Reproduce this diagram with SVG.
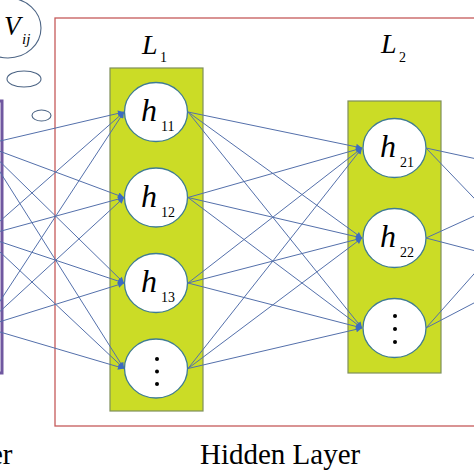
<svg xmlns="http://www.w3.org/2000/svg" width="474" height="474" viewBox="0 0 474 474">
<style>
.bg{fill:#ffffff}
.frame{fill:none;stroke:#c55a5a;stroke-width:1.3}
.layer{fill:#cbdc26;stroke:#7f8f5a;stroke-width:1.2}
.node{fill:#ffffff;stroke:#3f7c94;stroke-width:1.3}
.bubble{fill:#ffffff;stroke:#4d6585;stroke-width:1.1}
.conn line{stroke:#5470ab;stroke-width:1}
.t{font-family:"Liberation Serif","Times New Roman",serif;fill:#000}
.it{font-style:italic}
.dot{fill:#000}
</style>
<defs>
<marker id="arr" viewBox="0 0 10 10" refX="10" refY="5" markerWidth="7" markerHeight="6" markerUnits="userSpaceOnUse" orient="auto">
<path d="M0,0 L10,5 L0,10 z" fill="#3d6cc0"/>
</marker>
</defs>
<rect class="bg" x="0" y="0" width="474" height="474"/>

<g id="hidden-frame">
<rect class="frame" x="55" y="18" width="480" height="408"/>
<text class="t" x="200" y="464" font-size="29">Hidden Layer</text>
</g>

<g id="input-layer">
<rect x="-20" y="101" width="22" height="272" fill="none" stroke="#7058a0" stroke-width="3"/>
<text class="t" x="12.5" y="464" font-size="29" text-anchor="end">er</text>
</g>

<g id="thought-bubble">
<ellipse class="bubble" cx="8" cy="28" rx="33" ry="30"/>
<ellipse class="bubble" cx="24" cy="79" rx="17" ry="8"/>
<ellipse class="bubble" cx="41.5" cy="115.5" rx="9.5" ry="5.5"/>
<text class="t it" x="4" y="35" font-size="27">V</text>
<text class="t it" x="22" y="44" font-size="15">ij</text>
</g>

<g id="layer-L1">
<rect class="layer" x="110" y="68" width="93" height="343"/>
<text class="t it" x="142" y="54" font-size="28">L</text>
<text class="t" x="160" y="62" font-size="14">1</text>
</g>

<g id="layer-L2">
<rect class="layer" x="348" y="101" width="93" height="272"/>
<text class="t it" x="381" y="53" font-size="28">L</text>
<text class="t" x="399" y="62" font-size="14">2</text>
</g>

<g id="connectors" class="conn">
<line x1="-17" y1="145" x2="124" y2="112" marker-end="url(#arr)"/>
<line x1="-17" y1="145" x2="124" y2="197.5" marker-end="url(#arr)"/>
<line x1="-17" y1="145" x2="124" y2="283" marker-end="url(#arr)"/>
<line x1="-17" y1="145" x2="124" y2="368.5" marker-end="url(#arr)"/>
<line x1="-17" y1="236" x2="124" y2="112" marker-end="url(#arr)"/>
<line x1="-17" y1="236" x2="124" y2="197.5" marker-end="url(#arr)"/>
<line x1="-17" y1="236" x2="124" y2="283" marker-end="url(#arr)"/>
<line x1="-17" y1="236" x2="124" y2="368.5" marker-end="url(#arr)"/>
<line x1="-17" y1="327" x2="124" y2="112" marker-end="url(#arr)"/>
<line x1="-17" y1="327" x2="124" y2="197.5" marker-end="url(#arr)"/>
<line x1="-17" y1="327" x2="124" y2="283" marker-end="url(#arr)"/>
<line x1="-17" y1="327" x2="124" y2="368.5" marker-end="url(#arr)"/>
<line x1="188" y1="112" x2="362" y2="148" marker-end="url(#arr)"/>
<line x1="188" y1="112" x2="362" y2="238" marker-end="url(#arr)"/>
<line x1="188" y1="112" x2="362" y2="328" marker-end="url(#arr)"/>
<line x1="188" y1="197.5" x2="362" y2="148" marker-end="url(#arr)"/>
<line x1="188" y1="197.5" x2="362" y2="238" marker-end="url(#arr)"/>
<line x1="188" y1="197.5" x2="362" y2="328" marker-end="url(#arr)"/>
<line x1="188" y1="283" x2="362" y2="148" marker-end="url(#arr)"/>
<line x1="188" y1="283" x2="362" y2="238" marker-end="url(#arr)"/>
<line x1="188" y1="283" x2="362" y2="328" marker-end="url(#arr)"/>
<line x1="188" y1="368.5" x2="362" y2="148" marker-end="url(#arr)"/>
<line x1="188" y1="368.5" x2="362" y2="238" marker-end="url(#arr)"/>
<line x1="188" y1="368.5" x2="362" y2="328" marker-end="url(#arr)"/>
<line x1="426" y1="148" x2="560" y2="177"/>
<line x1="426" y1="148" x2="541" y2="268"/>
<line x1="426" y1="238" x2="560" y2="177"/>
<line x1="426" y1="238" x2="541" y2="268"/>
<line x1="426" y1="328" x2="560" y2="177"/>
<line x1="426" y1="328" x2="541" y2="268"/>
</g>

<g id="h11">
<ellipse class="node" cx="156" cy="112" rx="31.5" ry="29.5"/>
<text class="t it" x="141" y="121" font-size="32">h</text>
<text class="t" x="161" y="131" font-size="14">11</text>
</g>
<g id="h12">
<ellipse class="node" cx="156" cy="197.5" rx="31.5" ry="29.5"/>
<text class="t it" x="141" y="206.5" font-size="32">h</text>
<text class="t" x="161" y="216.5" font-size="14">12</text>
</g>
<g id="h13">
<ellipse class="node" cx="156" cy="283" rx="31.5" ry="29.5"/>
<text class="t it" x="141" y="292" font-size="32">h</text>
<text class="t" x="161" y="302" font-size="14">13</text>
</g>
<g id="h1n">
<ellipse class="node" cx="156" cy="368.5" rx="31.5" ry="29.5"/>
<circle class="dot" cx="157" cy="359" r="2"/>
<circle class="dot" cx="157" cy="371.5" r="2"/>
<circle class="dot" cx="157" cy="384" r="2"/>
</g>

<g id="h21">
<ellipse class="node" cx="394.5" cy="148" rx="31.5" ry="29.5"/>
<text class="t it" x="380" y="157" font-size="32">h</text>
<text class="t" x="400" y="167" font-size="14">21</text>
</g>
<g id="h22">
<ellipse class="node" cx="394.5" cy="238" rx="31.5" ry="29.5"/>
<text class="t it" x="380" y="247" font-size="32">h</text>
<text class="t" x="400" y="257" font-size="14">22</text>
</g>
<g id="h2n">
<ellipse class="node" cx="394.5" cy="328" rx="31.5" ry="29.5"/>
<circle class="dot" cx="395" cy="316" r="2"/>
<circle class="dot" cx="395" cy="329" r="2"/>
<circle class="dot" cx="395" cy="342" r="2"/>
</g>
</svg>
